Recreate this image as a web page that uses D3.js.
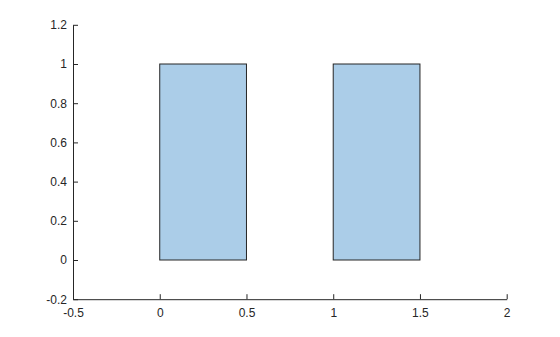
<!DOCTYPE html>
<html><head><meta charset="utf-8">
<script src="https://cdn.jsdelivr.net/npm/d3@7"></script>
<style>body{margin:0;background:#fff}svg{display:block}</style>
</head><body>
<script>
const binEdges = [[0, 0.5], [1, 1.5]];
const binCounts = [1, 1];
const xTicks = [-0.5, 0, 0.5, 1, 1.5, 2];
const yTicks = [-0.2, 0, 0.2, 0.4, 0.6, 0.8, 1, 1.2];

const W = 560, H = 337;
const m = {left: 73, right: 53.3, top: 24.8, bottom: 37.8};
const svg = d3.select("body").append("svg").attr("width", W).attr("height", H);
const x = d3.scaleLinear().domain([-0.5, 2]).range([m.left, W - m.right]);
const y = d3.scaleLinear().domain([-0.2, 1.2]).range([H - m.bottom, m.top]);

const bars = binEdges.map((e, i) => ({x0: e[0], x1: e[1], v: binCounts[i]}));
svg.append("g").selectAll("rect").data(bars).join("rect")
  .attr("x", d => x(d.x0)).attr("y", d => y(d.v))
  .attr("width", d => x(d.x1) - x(d.x0)).attr("height", d => y(0) - y(d.v))
  .attr("fill", "#abcde8").attr("stroke", "#262626").attr("stroke-width", 1);

const fmt = d => String(+(+d).toFixed(2));
const xa = svg.append("g").attr("transform", `translate(0,${y(-0.2)})`)
  .call(d3.axisBottom(x).tickValues(xTicks).tickSize(-5).tickSizeOuter(0).tickPadding(6).tickFormat(fmt));
const ya = svg.append("g").attr("transform", `translate(${x(-0.5)},0)`)
  .call(d3.axisLeft(y).tickValues(yTicks).tickSize(-5).tickSizeOuter(0).tickPadding(6).tickFormat(fmt));
[xa, ya].forEach(a => {
  a.select(".domain").attr("stroke", "#262626");
  a.selectAll(".tick line").attr("stroke", "#262626");
  a.selectAll("text").attr("fill", "#262626").style("font-family", "Arial, Liberation Sans, sans-serif").style("font-size", "12px");
});
xa.selectAll("text").attr("dy", "0.71em").attr("y", 9);
</script>
</body></html>
